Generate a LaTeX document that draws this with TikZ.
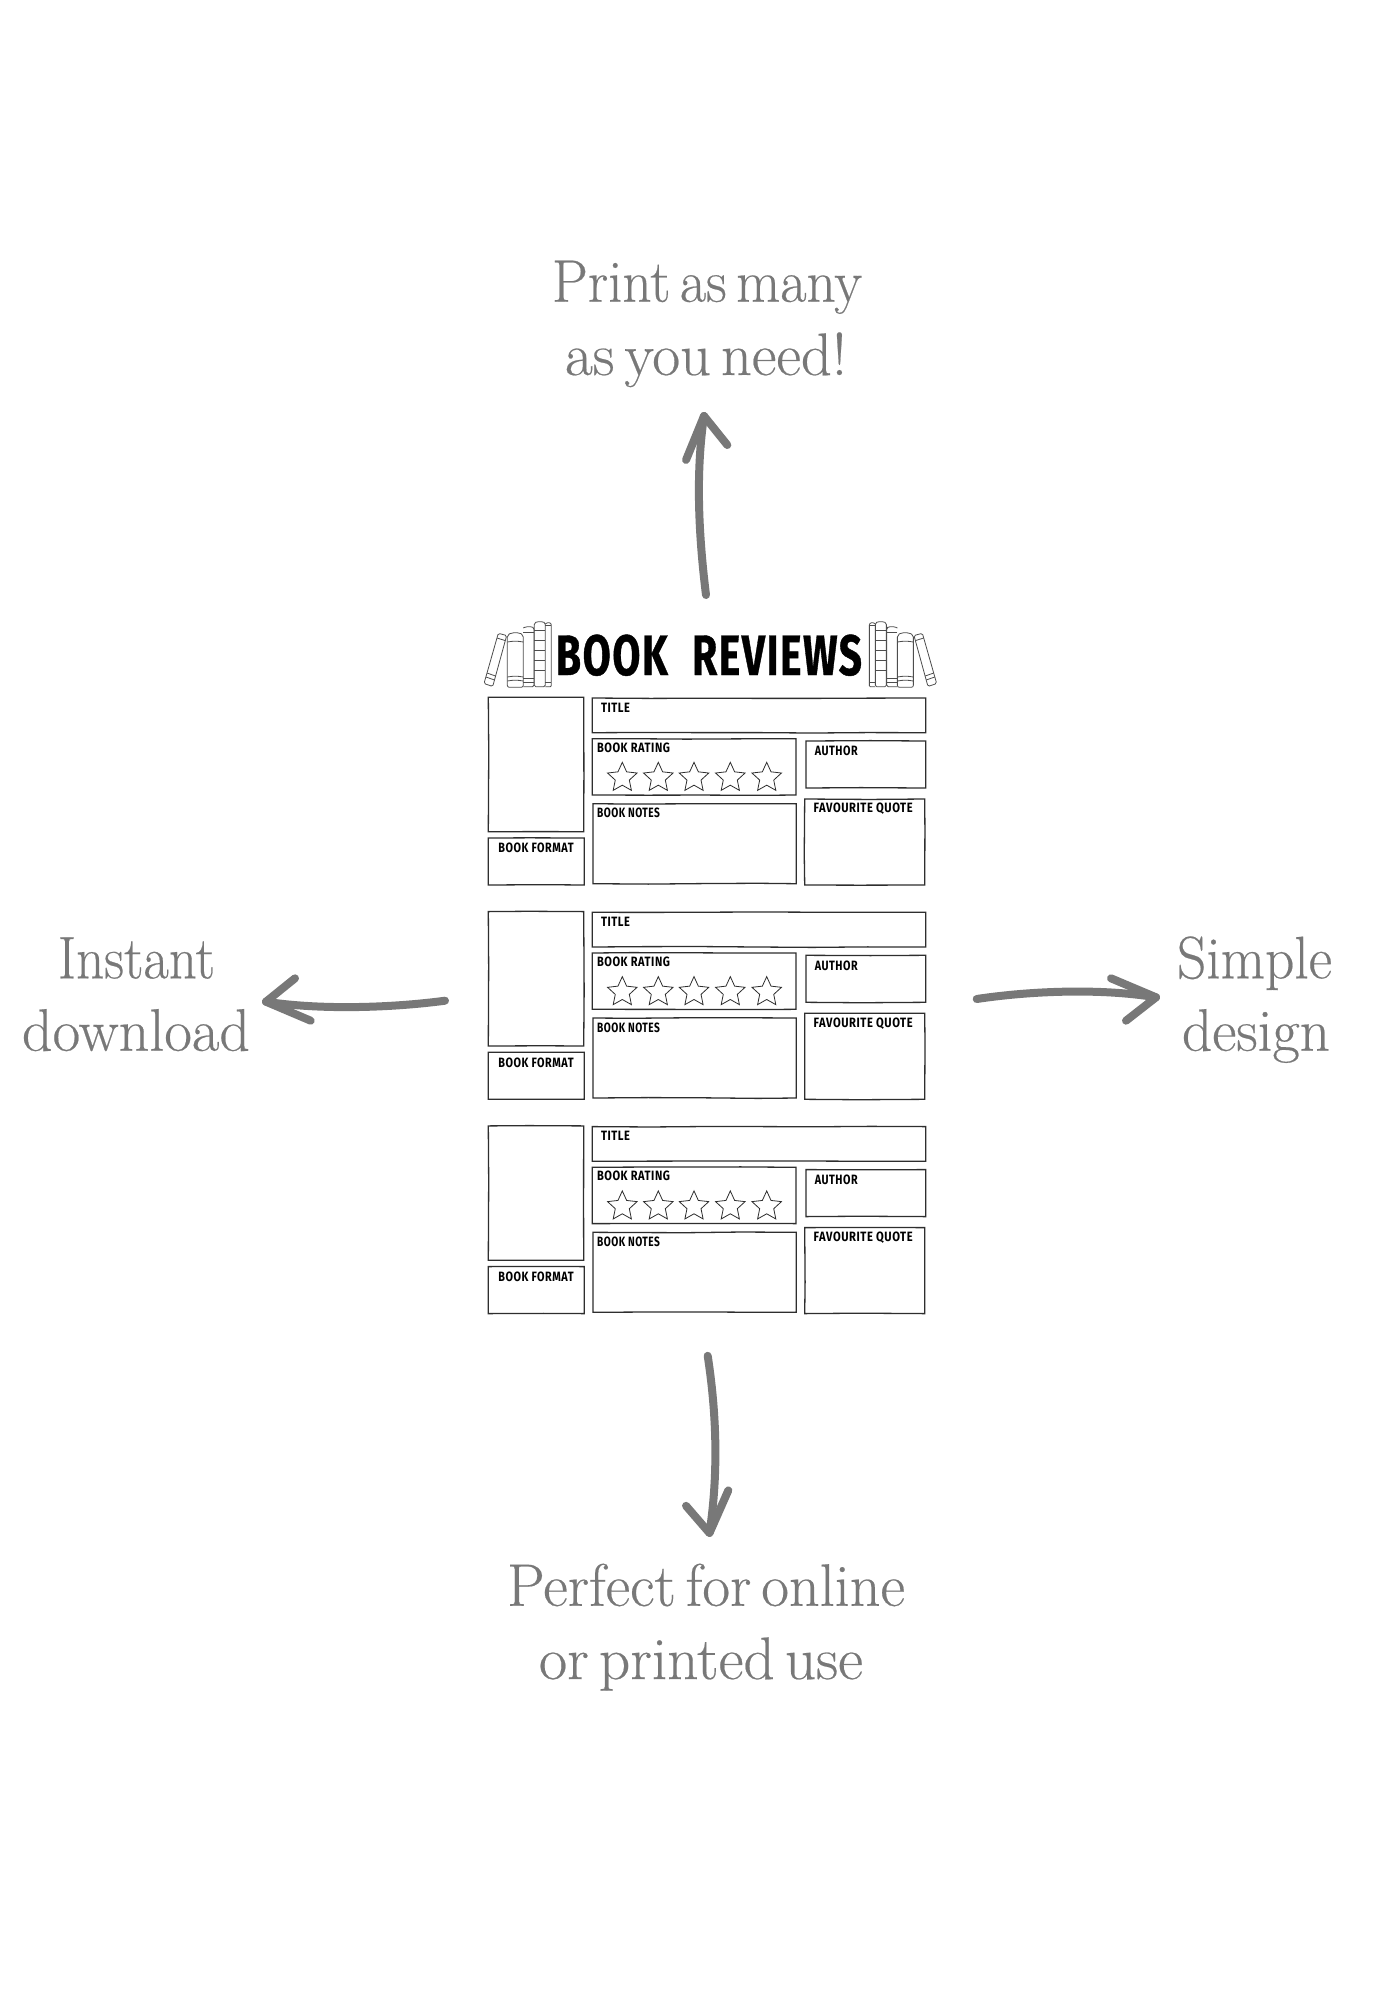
\documentclass[tikz,border=0pt]{standalone}
\usepackage{fontspec}
\usepackage{graphicx}
\usetikzlibrary{shapes.geometric,decorations.pathmorphing}
\setmainfont[WordSpace=0.55,FakeBold=0.35]{Latin Modern Roman}
\newfontfamily\labelfont[LetterSpace=5]{Fira Sans}
\newfontfamily\headfont[FakeBold=0.8,LetterSpace=4]{Fira Sans}
\definecolor{capgray}{HTML}{787878}
\definecolor{inkline}{HTML}{2E2E2E}
\newsavebox\fitbox
\newcommand{\fitx}[2]{\sbox\fitbox{#2}\pgfmathsetmacro\fitr{#1pt/\wd\fitbox}\scalebox{\fitr}[1]{\usebox\fitbox}}
\tikzset{
  caption/.style={anchor=base,inner sep=0pt,text=capgray,font=\fontsize{60}{62}\selectfont},
  sheetbox/.style={draw=inkline,line width=1.3pt,anchor=north west,inner sep=0pt,outer sep=0pt,decorate,decoration={random steps,segment length=55pt,amplitude=.45pt}},
  fieldlabel/.style={anchor=base,inner sep=0pt,text=black,font=\labelfont\bfseries\fontsize{13.5}{14}\selectfont},
  ratingstar/.style={draw=inkline,line width=.8pt,star,star points=5,star point ratio=2.1,minimum size=31pt,inner sep=0pt},
  handline/.style={draw=capgray,line width=8pt,line cap=round,line join=round},
  bookline/.style={draw=inkline!85,line width=.8pt,line join=round},
}
\newcommand{\bx}[5]{\pgfmathsetmacro\bw{#4-#2}\pgfmathsetmacro\bh{#5-#3}\node[sheetbox,minimum width=\bw pt,minimum height=\bh pt] (#1) at (#2,#3) {};}
\newcommand{\bookset}{%
  \draw[bookline,rounded corners=1.5pt] (498.3,633.3)--(506.7,635.5)--(492.7,686.5)--(484,683.5)--cycle;
  \draw[bookline] (497,638)--(505,640.5) (487,673)--(495.5,676) (486,677)--(494.5,680);
  \draw[bookline,rounded corners=2pt] (507.3,635)--(512,632.7)--(519,632.7)--(523.3,635)--(523.3,687.3)--(507.3,687.3)--cycle;
  \draw[bookline] (507.3,642) to[bend left=10] (523.3,642) (507.3,677) to[bend left=10] (523.3,677) (507.3,681) to[bend left=10] (523.3,681);
  \draw[bookline,rounded corners=1.5pt] (523.3,628)--(526,626.7)--(532,626.7)--(534,628)--(534,686.7)--(523.3,686.7);
  \draw[bookline] (523.3,632) -- (534,632) (523.3,678) -- (534,678) (523.3,682) -- (534,682);
  \draw[bookline,rounded corners=1.5pt] (534.3,623)--(537,621.7)--(543,621.7)--(545.3,623)--(545.3,686.7)--(534.3,686.7)--cycle;
  \draw[bookline] (534.3,630) -- (545.3,630) (534.3,640) -- (545.3,640) (534.3,650) -- (545.3,650) (534.3,660) -- (545.3,660) (534.3,670) -- (545.3,670);
  \draw[bookline,rounded corners=1pt] (545.3,624)--(547,622.7)--(550,622.7)--(551.3,624)--(551.3,686.7)--(545.3,686.7);
  \draw[bookline] (545.3,625.5) -- (551.3,625.5) (545.3,682) -- (551.3,682);
}
\newcommand{\fieldtext}[5]{\node[fieldlabel] (#1) at (#2,#3) {\fitx{#4}{#5}};}
\newcommand{\sheetrow}[2]{%
\begin{scope}[yshift=-#2pt]
  \bx{cover#1}{488.3}{697.3}{583.7}{831.7}
  \bx{format#1}{488.3}{838}{584.3}{885}
  \bx{title#1}{592.3}{698}{925.7}{732.7}
  \bx{rating#1}{592.3}{738.7}{796}{795}
  \bx{author#1}{806}{741}{925.7}{788}
  \bx{notes#1}{593}{803.7}{796.3}{883.7}
  \bx{quote#1}{804.7}{799}{924.7}{885}
  \fieldtext{tl#1}{615.5}{712.3}{29}{TITLE}
  \fieldtext{rl#1}{633.5}{752}{73}{BOOK RATING}
  \fieldtext{al#1}{836.3}{755.7}{43}{AUTHOR}
  \fieldtext{nl#1}{628.5}{817.7}{63}{BOOK NOTES}
  \fieldtext{ql#1}{863.2}{812.7}{99}{FAVOURITE QUOTE}
  \fieldtext{fl#1}{536}{852.7}{75.4}{BOOK FORMAT}
  \foreach \sx [count=\si] in {622.3,658.3,694,730.3,766.7}
    \node[ratingstar] (star#1\si) at (\sx,777.8) {};
\end{scope}}
\begin{document}
\begin{tikzpicture}[x=1pt,y=-1pt]
\pgfmathsetseed{7}
\useasboundingbox[fill=white] (0,0) rectangle (1390,2000);

% captions
\node[caption] (capTopA) at (707,301.7) {\fitx{310}{Print as many}};
\node[caption] (capTopB) at (706,375) {\fitx{282}{as you need!}};
\node[caption] (capLeftA) at (136.5,978.3) {\fitx{157}{Instant}};
\node[caption] (capLeftB) at (136,1050.7) {\fitx{228}{download}};
\node[caption] (capRightA) at (1254.5,978.3) {\fitx{155}{Simple}};
\node[caption] (capRightB) at (1256,1050.7) {\fitx{148}{design}};
\node[caption] (capBotA) at (706,1605.8) {\fitx{398}{Perfect for online}};
\node[caption] (capBotB) at (701,1679) {\fitx{324}{or printed use}};

% heading and bookends
\node[anchor=base,inner sep=0pt,text=black,font=\headfont\bfseries\fontsize{57}{60}\selectfont] (heading) at (709,675) {\fitx{306}{BOOK\hspace{.6em}REVIEWS}};
\bookset
\begin{scope}[xshift=1420.67pt,xscale=-1]
\bookset
\end{scope}

% sheet rows
\sheetrow{A}{0}
\sheetrow{B}{214.3}
\sheetrow{C}{428.6}

% arrows
\coordinate (upTail) at (706,595);
\coordinate (upTip) at (704,416);
\coordinate (upWl) at (686,460);
\coordinate (upWr) at (727.3,445);
\draw[handline] (upTail) .. controls (698,530) and (696,470) .. (upTip);
\draw[handline] (upWl) -- (upTip) -- (upWr);

\coordinate (dnTail) at (707.7,1355.8);
\coordinate (dnTip) at (709.5,1533);
\coordinate (dnWl) at (686,1505.8);
\coordinate (dnWr) at (728.3,1490.4);
\draw[handline] (dnTail) .. controls (716,1410) and (719,1470) .. (dnTip);
\draw[handline] (dnWl) -- (dnTip) -- (dnWr);

\coordinate (lfTail) at (445,1000.7);
\coordinate (lfTip) at (266,1001.7);
\coordinate (lfWu) at (295,978.3);
\coordinate (lfWd) at (310.7,1020.7);
\draw[handline] (lfTail) .. controls (390,1008) and (320,1010) .. (lfTip);
\draw[handline] (lfWu) -- (lfTip) -- (lfWd);

\coordinate (rtTail) at (976.7,999);
\coordinate (rtTip) at (1156,997.3);
\coordinate (rtWu) at (1111,978.3);
\coordinate (rtWd) at (1126,1020.7);
\draw[handline] (rtTail) .. controls (1030,991) and (1100,988) .. (rtTip);
\draw[handline] (rtWu) -- (rtTip) -- (rtWd);
\end{tikzpicture}
\end{document}
